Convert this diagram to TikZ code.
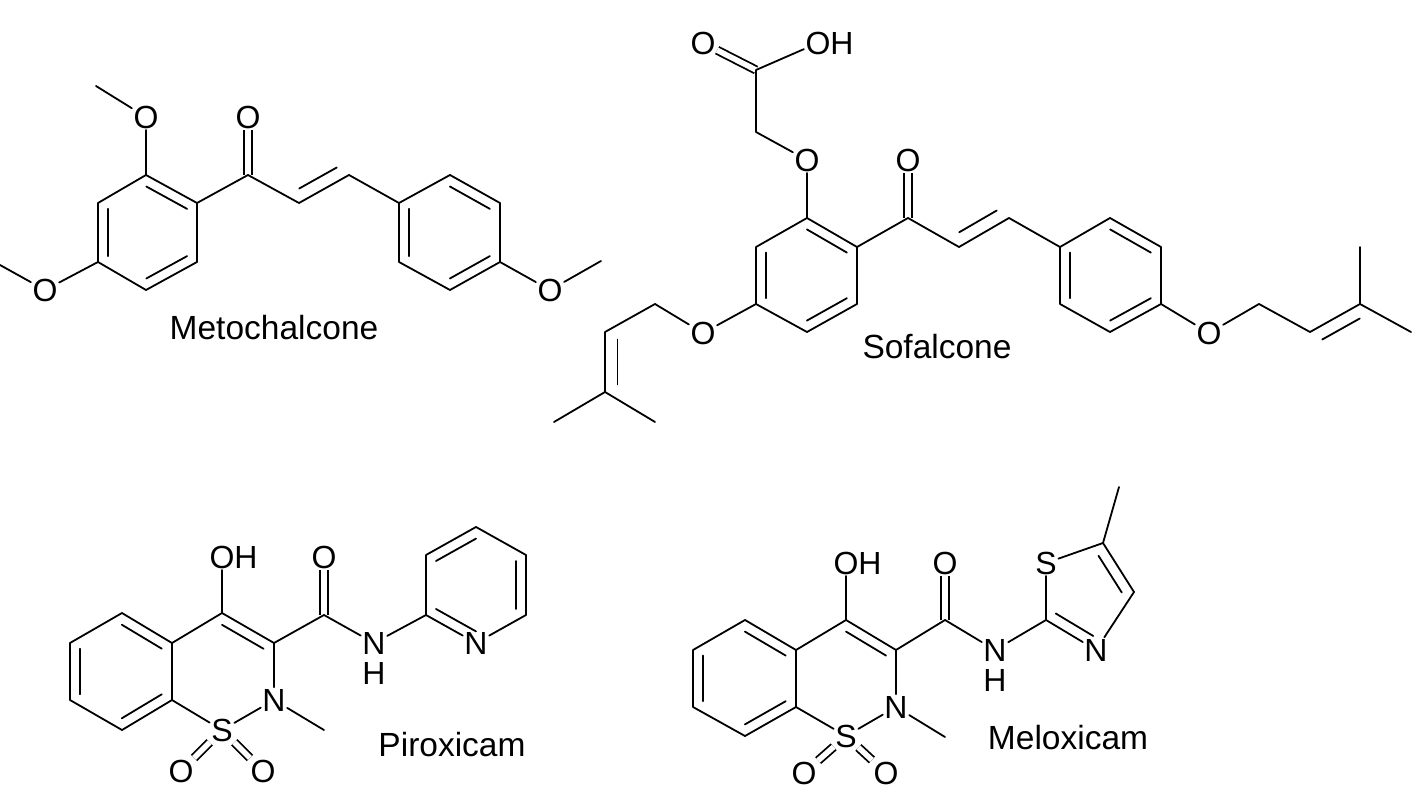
\documentclass[tikz,border=0pt]{standalone}
\usepackage{fontspec}
\setmainfont{Liberation Sans}
\usetikzlibrary{calc}
\tikzset{
  atom/.style={inner sep=1.5pt, font=\fontsize{32}{38}\selectfont},
  lbl/.style={inner sep=0pt, font=\fontsize{33.5}{40}\selectfont},
  bond/.style={line width=1.8pt, line cap=round, line join=round},
  dbond/.style={line width=1.8pt, double, double distance=5.5pt},
}
\newcommand{\inb}[4][0.2]{\draw[bond] ($(#2)!#1!(#4)$) -- ($(#3)!#1!(#4)$);}
\begin{document}
\begin{tikzpicture}[x=1pt,y=-1pt]
\useasboundingbox (0,0) rectangle (1421,791);
% ===== Metochalcone =====
\coordinate (ma1) at (146,175); \coordinate (ma2) at (197,203);
\coordinate (ma3) at (197,262); \coordinate (ma4) at (146,290);
\coordinate (ma5) at (98,262);  \coordinate (ma6) at (98,203);
\coordinate (mac) at (147.5,232.5);
\node[atom] (mo1) at (146,117) {O};
\coordinate (mme1) at (96,86);
\node[atom] (mo2) at (45,290) {O};
\coordinate (mme2) at (0,265);
\coordinate (mco) at (248,175);
\node[atom] (mo3) at (248,117) {O};
\coordinate (mal1) at (299,203); \coordinate (mal2) at (349,175);
\coordinate (malc) at (300,145);
\coordinate (mb1) at (399,203); \coordinate (mb2) at (450,175);
\coordinate (mb3) at (500,203); \coordinate (mb4) at (500,262);
\coordinate (mb5) at (450,290); \coordinate (mb6) at (399,262);
\coordinate (mbc) at (449.5,232.5);
\node[atom] (mo4) at (550,290) {O};
\coordinate (mme4) at (601,261);
\draw[dbond] (mco) -- (mo3);
\draw[bond] (ma1)--(ma2)--(ma3)--(ma4)--(ma5)--(ma6)--cycle;
\inb{ma1}{ma2}{mac} \inb{ma3}{ma4}{mac} \inb{ma5}{ma6}{mac}
\draw[bond] (ma1)--(mo1)--(mme1);
\draw[bond] (ma5)--(mo2)--(mme2);
\draw[bond] (ma2)--(mco)--(mal1)--(mal2)--(mb1);
\inb[0.25]{mal1}{mal2}{malc}
\draw[bond] (mb1)--(mb2)--(mb3)--(mb4)--(mb5)--(mb6)--cycle;
\inb{mb1}{mb6}{mbc} \inb{mb2}{mb3}{mbc} \inb{mb4}{mb5}{mbc}
\draw[bond] (mb4)--(mo4)--(mme4);
\node[lbl] (mlab) at (274,328) {Metochalcone};
% ===== Sofalcone =====
\coordinate (sa1) at (807,218); \coordinate (sa2) at (857,247);
\coordinate (sa3) at (857,304); \coordinate (sa4) at (807,332);
\coordinate (sa5) at (756,304); \coordinate (sa6) at (756,247);
\coordinate (sac) at (806.5,275);
\node[atom] (so1) at (807,160) {O};
\coordinate (sch) at (756,132);
\coordinate (scooh) at (756,70);
\node[atom] (so2) at (703,43) {O};
\node[atom] (so3) at (818,43) {O\rlap{H}};
\coordinate (sco) at (908,218);
\node[atom] (so4) at (908,160) {O};
\coordinate (sal1) at (959,247); \coordinate (sal2) at (1009,218);
\coordinate (salc) at (960,188);
\coordinate (sb1) at (1060,247); \coordinate (sb2) at (1110,218);
\coordinate (sb3) at (1161,247); \coordinate (sb4) at (1161,304);
\coordinate (sb5) at (1110,332); \coordinate (sb6) at (1060,304);
\coordinate (sbc) at (1110.5,275);
\node[atom] (so5) at (1209,333) {O};
\coordinate (sp1) at (1259,304); \coordinate (sp2) at (1310,332);
\coordinate (sp3) at (1360,304); \coordinate (sp4) at (1360,247);
\coordinate (sp5) at (1411,332); \coordinate (spc) at (1359,362);
\node[atom] (so6) at (703,333) {O};
\coordinate (sq1) at (655,304); \coordinate (sq2) at (605,332);
\coordinate (sq3) at (605,392); \coordinate (sq4) at (554,422);
\coordinate (sq5) at (655,422); \coordinate (sqc) at (655,362);
\draw[dbond] (sco) -- (so4);
\draw[dbond] (scooh) -- (so2);
\draw[bond] (sa1)--(sa2)--(sa3)--(sa4)--(sa5)--(sa6)--cycle;
\inb{sa1}{sa2}{sac} \inb{sa3}{sa4}{sac} \inb{sa5}{sa6}{sac}
\draw[bond] (sa1)--(so1)--(sch)--(scooh)--(so3);
\draw[bond] (sa2)--(sco)--(sal1)--(sal2)--(sb1);
\inb[0.25]{sal1}{sal2}{salc}
\draw[bond] (sb1)--(sb2)--(sb3)--(sb4)--(sb5)--(sb6)--cycle;
\inb{sb1}{sb6}{sbc} \inb{sb2}{sb3}{sbc} \inb{sb4}{sb5}{sbc}
\draw[bond] (sb4)--(so5)--(sp1)--(sp2)--(sp3)--(sp4);
\draw[bond] (sp3)--(sp5);
\inb[0.25]{sp2}{sp3}{spc}
\draw[bond] (sa5)--(so6)--(sq1)--(sq2)--(sq3)--(sq4);
\draw[bond] (sq3)--(sq5);
\inb[0.25]{sq2}{sq3}{sqc}
\node[lbl] (slab) at (937,347) {Sofalcone};
% ===== Piroxicam =====
\coordinate (pa1) at (122,613); \coordinate (pa2) at (172,643);
\coordinate (pa3) at (172,700); \coordinate (pa4) at (122,730);
\coordinate (pa5) at (70,700);  \coordinate (pa6) at (70,643);
\coordinate (pac) at (121,671.5);
\coordinate (pc4) at (222,613); \coordinate (pc3) at (274,643);
\coordinate (ptc) at (222,672);
\node[atom] (poh) at (222,557) {O\rlap{H}};
\node[atom] (pn) at (274,700) {N};
\node[atom] (ps) at (222,730) {S};
\node[atom] (pso1) at (181,771) {O};
\node[atom] (pso2) at (263,771) {O};
\coordinate (pme) at (324,730);
\coordinate (pam) at (324,615);
\node[atom] (pao) at (324,557) {O};
\node[atom] (pnh) at (374,643) {N};
\node[atom] (ph) at (374,673) {H};
\coordinate (py2) at (426,615);
\node[atom] (pyn) at (476,643) {N};
\coordinate (py6) at (526,615); \coordinate (py5) at (526,555);
\coordinate (py4) at (476,527); \coordinate (py3) at (426,555);
\coordinate (pyc) at (476,585);
\draw[dbond] (pam) -- (pao);
\draw[dbond] (ps) -- (pso1);
\draw[dbond] (ps) -- (pso2);
\draw[bond] (pa1)--(pa2)--(pa3)--(pa4)--(pa5)--(pa6)--cycle;
\inb{pa1}{pa2}{pac} \inb{pa3}{pa4}{pac} \inb{pa5}{pa6}{pac}
\draw[bond] (pa2)--(pc4)--(pc3)--(pn)--(ps)--(pa3);
\inb{pc4}{pc3}{ptc}
\draw[bond] (pc4)--(poh);
\draw[bond] (pn)--(pme);
\draw[bond] (pc3)--(pam)--(pnh)--(py2);
\draw[bond] (py2)--(pyn)--(py6)--(py5)--(py4)--(py3)--(py2);
\inb{py2}{pyn}{pyc} \inb{py6}{py5}{pyc} \inb{py4}{py3}{pyc}
\node[lbl] (plab) at (452,745) {Piroxicam};
% ===== Meloxicam =====
\coordinate (la1) at (745,620); \coordinate (la2) at (796,650);
\coordinate (la3) at (796,707); \coordinate (la4) at (745,736);
\coordinate (la5) at (693,707); \coordinate (la6) at (693,650);
\coordinate (lac) at (744.5,678);
\coordinate (lc4) at (846,620); \coordinate (lc3) at (896,650);
\coordinate (ltc) at (846,678);
\node[atom] (loh) at (846,563) {O\rlap{H}};
\node[atom] (ln) at (896,707) {N};
\node[atom] (ls) at (846,736) {S};
\node[atom] (lso1) at (804,773) {O};
\node[atom] (lso2) at (886,773) {O};
\coordinate (lme) at (945,737);
\coordinate (lam) at (945,620);
\node[atom] (lao) at (945,563) {O};
\node[atom] (lnh) at (995,650) {N};
\node[atom] (lh) at (995,680) {H};
\coordinate (lt2) at (1046,620);
\node[atom] (lts) at (1046,563) {S};
\coordinate (lt5) at (1103,543); \coordinate (lt4) at (1134,592);
\node[atom] (ltn) at (1096,650) {N};
\coordinate (ltme) at (1119,487);
\coordinate (ltc5) at (1085,594);
\draw[dbond] (lam) -- (lao);
\draw[dbond] (ls) -- (lso1);
\draw[dbond] (ls) -- (lso2);
\draw[bond] (la1)--(la2)--(la3)--(la4)--(la5)--(la6)--cycle;
\inb{la1}{la2}{lac} \inb{la3}{la4}{lac} \inb{la5}{la6}{lac}
\draw[bond] (la2)--(lc4)--(lc3)--(ln)--(ls)--(la3);
\inb{lc4}{lc3}{ltc}
\draw[bond] (lc4)--(loh);
\draw[bond] (ln)--(lme);
\draw[bond] (lc3)--(lam)--(lnh)--(lt2);
\draw[bond] (lt2)--(lts)--(lt5)--(lt4)--(ltn)--(lt2);
\inb[0.25]{lt2}{ltn}{ltc5} \inb[0.25]{lt5}{lt4}{ltc5}
\draw[bond] (lt5)--(ltme);
\node[lbl] (llab) at (1068,738) {Meloxicam};
\end{tikzpicture}
\end{document}
